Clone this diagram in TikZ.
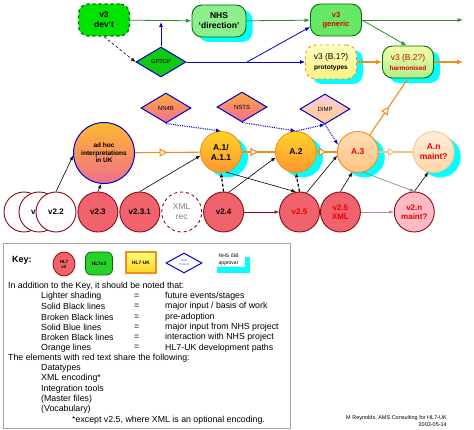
\documentclass[tikz,border=0pt]{standalone}
\usepackage{fontspec}
\setmainfont{Liberation Sans}
\usetikzlibrary{arrows.meta, positioning, shapes.geometric, shadows, decorations.markings}
\definecolor{vred}{RGB}{240,98,108}
\definecolor{vdark}{RGB}{140,10,20}
\definecolor{vpink}{RGB}{255,186,196}
\definecolor{hgreen}{RGB}{0,110,0}
\definecolor{lgreen}{RGB}{50,140,50}
\definecolor{devgreen}{RGB}{0,228,0}
\definecolor{nhsgreen}{RGB}{140,238,140}
\definecolor{gengreen}{RGB}{102,232,102}
\definecolor{ukorange}{RGB}{245,140,30}
\definecolor{ukpale}{RGB}{255,196,130}
\definecolor{ukyellow}{RGB}{255,212,40}
\definecolor{ukdeep}{RGB}{255,150,50}
\definecolor{projblue}{RGB}{0,0,205}
\definecolor{cyshade}{RGB}{0,255,255}
\definecolor{redtext}{RGB}{230,0,0}

\begin{document}
\begin{tikzpicture}[x=1pt, y=-1pt,
    every node/.style={align=center, inner sep=0pt},
    lbl/.style={font=\fontsize{8}{9}\selectfont\bfseries},
    vold/.style={circle, draw=vdark, line width=0.9pt, fill=vred, minimum size=40pt, lbl},
    vpast/.style={vold, fill=white},
    vnext/.style={vold, fill=vpink, text=redtext},
    ukA/.style={circle, draw=ukorange, line width=0.9pt, minimum size=41pt,
                top color=ukyellow, bottom color=ukdeep, lbl, font=\fontsize{8.5}{10}\selectfont\bfseries},
    ukfut/.style={ukA, top color=ukpale!60, bottom color=ukpale, text=redtext},
    ukfaint/.style={ukA, top color=ukpale!30, bottom color=ukpale!70, draw=ukorange!50, text=redtext},
    cyshadow/.style={drop shadow={shadow xshift=6.5pt, shadow yshift=-5pt, fill=cyshade, opacity=1}},
    proj/.style={diamond, draw=projblue, line width=1pt, minimum width=50pt, minimum height=30pt,
                 font=\fontsize{6}{7}\selectfont},
    projuk/.style={proj, top color={rgb,255:red,255;green,170;blue,60}, bottom color={rgb,255:red,240;green,110;blue,150}},
    hlbox/.style={rectangle, rounded corners=10pt, draw=hgreen, line width=0.9pt,
                  minimum width=51pt, minimum height=32pt, font=\fontsize{8.5}{10}\selectfont\bfseries},
    blk/.style={-{Latex[length=4.5pt, width=3.5pt]}, line width=0.6pt},
    pre/.style={blk, densely dashed, line width=1.2pt},
    nhsln/.style={-{Latex[length=5pt, width=4pt]}, projblue, line width=0.8pt},
    nhsdot/.style={nhsln, densely dotted, line width=1.1pt},
    v3ln/.style={-{Latex[length=5.5pt, width=4pt]}, lgreen, line width=0.8pt},
    ukarr/.style={-{Latex[length=6pt, width=5pt]}, ukorange, line width=1.1pt},
    ukln/.style={ukorange, line width=1.1pt, postaction={decorate},
                 decoration={markings, mark=at position 0.5 with {\arrow{Triangle[length=8pt, width=8pt, fill=white]}}}},
    keytxt/.style={anchor=west, font=\fontsize{8.8}{10}\selectfont}
  ]
  \useasboundingbox (0,0) rectangle (474,430);

  % v2 releases
  \node[vpast] (v20) at (24,212) {};
  \node[vpast] (v21) at (39,212) {v2.1};
  \node[vpast] (v22) at (56,212) {v2.2};
  \node[vold, right=1pt of v22]   (v23)  {v2.3};
  \node[vold, right=1pt of v23]   (v231) {v2.3.1};
  \node[vpast, dashed, right=1pt of v231, text=gray, font=\fontsize{8.5}{10}\selectfont] (xmlrec) {XML\\rec};
  \node[vold, right=1pt of xmlrec] (v24) {v2.4};
  \node[vold, text=redtext, right=35pt of v24] (v25) {v2.5};
  \node[vold, text=redtext, right=0pt of v25]  (v25x) {v2.5\\XML};
  \node[vnext, right=33pt of v25x] (v2n) {v2.n\\maint?};

  % HL7-UK line
  \node[circle, draw=projblue, line width=1pt, minimum size=61pt,
        top color={rgb,255:red,255;green,185;blue,45}, bottom color={rgb,255:red,238;green,110;blue,140},
        font=\fontsize{6.5}{7.5}\selectfont\bfseries] (adhoc) at (104,153) {ad hoc\\interpretations\\in UK};
  \node[ukA, cyshadow] (a1) at (221,152) {A.1/\\A.1.1};
  \node[ukA, cyshadow, right=33pt of a1] (a2) {A.2};
  \node[ukfut, cyshadow, right=20pt of a2] (a3) {A.3};
  \node[ukfaint, cyshadow, right=34pt of a3] (an) {A.n\\maint?};

  % NHS projects
  \node[projuk] (nn4b) at (166,108) {NN4B};
  \node[projuk] (nsts) at (242,107) {NSTS};
  \node[proj, top color={rgb,255:red,252;green,205;blue,215}, bottom color={rgb,255:red,255;green,205;blue,140}] (dimp) at (325,109) {DIMP};
  \node[proj, fill=devgreen!70!lgreen, font=\fontsize{5.8}{7}\selectfont] (gp2op) at (161,62) {GP2OP};

  % v3 line
  \node[hlbox, dashed, fill=devgreen, line width=1.3pt] (dev) at (104,20) {v3\\dev’t};
  \node[hlbox, fill=nhsgreen, cyshadow, minimum width=54pt] (nhs) at (219,21) {NHS\\‘direction’};
  \node[hlbox, fill=gengreen, text=redtext, font=\fontsize{7.5}{9}\selectfont\bfseries] (gen) at (336,20) {v3\\generic};
  \node[hlbox, dashed, draw=ukorange, top color={rgb,255:red,255;green,255;blue,190}, bottom color={rgb,255:red,255;green,240;blue,130},
        cyshadow, minimum height=34pt] (proto) at (331,62) {\mdseries v3 (B.1?)\\{\fontsize{6.5}{8}\selectfont\bfseries prototypes}};
  \node[hlbox, top color={rgb,255:red,240;green,255;blue,170}, bottom color={rgb,255:red,175;green,238;blue,140},
        text=redtext, cyshadow] (harm) at (408,62) {\mdseries v3 (B.2?)\\{\fontsize{6.5}{8}\selectfont\bfseries harmonised}};

  \coordinate (gpup) at (161,22);
  \coordinate (brk)  at (247,62);
  \coordinate (gend) at (463,20);
  \coordinate (hend) at (463,62);

  % v3 connectors
  \draw[v3ln] (dev) -- (nhs);
  \draw[v3ln] (nhs) -- (gen);
  \draw[v3ln] (gen.east) -- (gend);
  \draw[v3ln] (gen.east) -- (harm.95);
  \draw[blk, densely dashed] (dev.south) -- (gp2op.west);
  \draw[nhsln] (gp2op.north) -- (gpup);
  \draw[nhsln] (gp2op.east) -- (proto.west);
  \draw[nhsln] (brk) -- (gen.195);
  \draw[ukarr] (proto) -- (harm);
  \draw[ukarr] (harm.east) -- (hend);

  % NHS project links
  \draw[nhsdot] (nn4b.south) -- (a1.north);
  \draw[nhsdot] (nsts.south) -- (a2.north);
  \draw[nhsdot] (a2.north) -- (dimp.south);
  \draw[nhsdot] (dimp.south) -- (a3.160);

  % HL7-UK paths
  \draw[ukln] (adhoc) -- (a1);
  \draw[ukln] (a1) -- (a2);
  \draw[ukln] (a2) -- (a3);
  \draw[ukln, ukorange!55] (a3) -- (an);
  \draw[ukln] (a3.55) -- (harm.south);

  % v2 inputs
  \draw[blk] (v22.north) -- (adhoc.185);
  \draw[blk] (v23.north) -- (adhoc.265);
  \draw[blk] (v231.north) -- (a1.190);
  \draw[pre] (v24.north) -- (a1.south);
  \draw[blk] (v24.75) -- (a2.195);
  \draw[blk] (a1.285) -- (v25.100);
  \draw[pre] (v25.north) -- (a2.south);
  \draw[blk] (v25.70) -- (a3.190);
  \draw[blk] (v25x.north) -- (a3.255);
  \draw[blk, gray] (a3.285) -- (v2n.north);
  \draw[blk] (v2n.north) -- (an.255);
  \draw[blk, vdark] (v24) -- (v25);
  \draw[blk, vdark!50] (v25x) -- (v2n);

  % key
  \draw[gray!70, line width=0.8pt] (3,243) rectangle (290,428);
  \node[anchor=west, font=\fontsize{9}{10}\selectfont\bfseries] (key) at (12,260) {Key:};
  \node[ellipse, draw=vdark, line width=0.8pt, fill=vred, minimum width=22pt, minimum height=24pt,
        font=\fontsize{4.5}{5}\selectfont\bfseries] (kv2) at (64,264) {HL7\\v2};
  \node[rectangle, rounded corners=6pt, draw=hgreen, line width=0.8pt, fill={rgb,255:red,40;green,210;blue,40}, minimum width=27pt, minimum height=23pt,
        font=\fontsize{4.8}{5.5}\selectfont\bfseries] (kv3) at (99,263.5) {HL7v3};
  \node[rectangle, draw=ukorange, line width=1.2pt, top color={rgb,255:red,255;green,255;blue,120}, bottom color=ukyellow,
        minimum width=30pt, minimum height=21pt, font=\fontsize{4.8}{5.5}\selectfont\bfseries] (kuk) at (141,262.5) {HL7-UK};
  \node[diamond, draw=projblue, line width=1pt, fill=white, minimum width=36pt, minimum height=20pt,
        text=projblue!60, font=\fontsize{3}{3.5}\selectfont] (knhs) at (184,263) {NHS\\Projects};
  \node[rectangle, fill=white, drop shadow={shadow xshift=5pt, shadow yshift=-6pt, fill=cyshade, opacity=1},
        anchor=north west, align=left, minimum width=33pt, minimum height=16pt, text depth=0pt,
        font=\fontsize{5}{7}\selectfont] (kisb) at (212,251) {NHS ISB\\approval};

  \node[keytxt] (note) at (8,286) {In addition to the Key, it should be noted that:};
  \node[keytxt] (r1a) at (41,296.3) {Lighter shading};
  \node[keytxt] (r1b) at (134,296.3) {=};
  \node[keytxt] (r1c) at (165,296.3) {future events/stages};
  \node[keytxt] (r2a) at (41,306.6) {Solid Black lines};
  \node[keytxt] (r2b) at (134,306.6) {=};
  \node[keytxt] (r2c) at (165,306.6) {major input / basis of work};
  \node[keytxt] (r3a) at (41,316.9) {Broken Black lines};
  \node[keytxt] (r3b) at (134,316.9) {=};
  \node[keytxt] (r3c) at (165,316.9) {pre-adoption};
  \node[keytxt] (r4a) at (41,327.2) {Solid Blue lines};
  \node[keytxt] (r4b) at (134,327.2) {=};
  \node[keytxt] (r4c) at (165,327.2) {major input from NHS project};
  \node[keytxt] (r5a) at (41,337.5) {Broken Black lines};
  \node[keytxt] (r5b) at (134,337.5) {=};
  \node[keytxt] (r5c) at (165,337.5) {interaction with NHS project};
  \node[keytxt] (r6a) at (41,347.8) {Orange lines};
  \node[keytxt] (r6b) at (134,347.8) {=};
  \node[keytxt] (r6c) at (165,347.8) {HL7-UK development paths};
  \node[keytxt] (share) at (8,358.1) {The elements with red text share the following:};
  \node[keytxt] (s1) at (41,368.4) {Datatypes};
  \node[keytxt] (s2) at (41,378.7) {XML encoding*};
  \node[keytxt] (s3) at (41,389) {Integration tools};
  \node[keytxt] (s4) at (41,399.3) {(Master files)};
  \node[keytxt] (s5) at (41,409.6) {(Vocabulary)};
  \node[keytxt] (s6) at (72,419.9) {*except v2.5, where XML is an optional encoding.};

  \node[anchor=east, align=right, font=\fontsize{5.5}{6.5}\selectfont] (credit) at (447,421) {M Reynolds, AMS Consulting for HL7-UK\\2003-05-14};
\end{tikzpicture}
\end{document}
